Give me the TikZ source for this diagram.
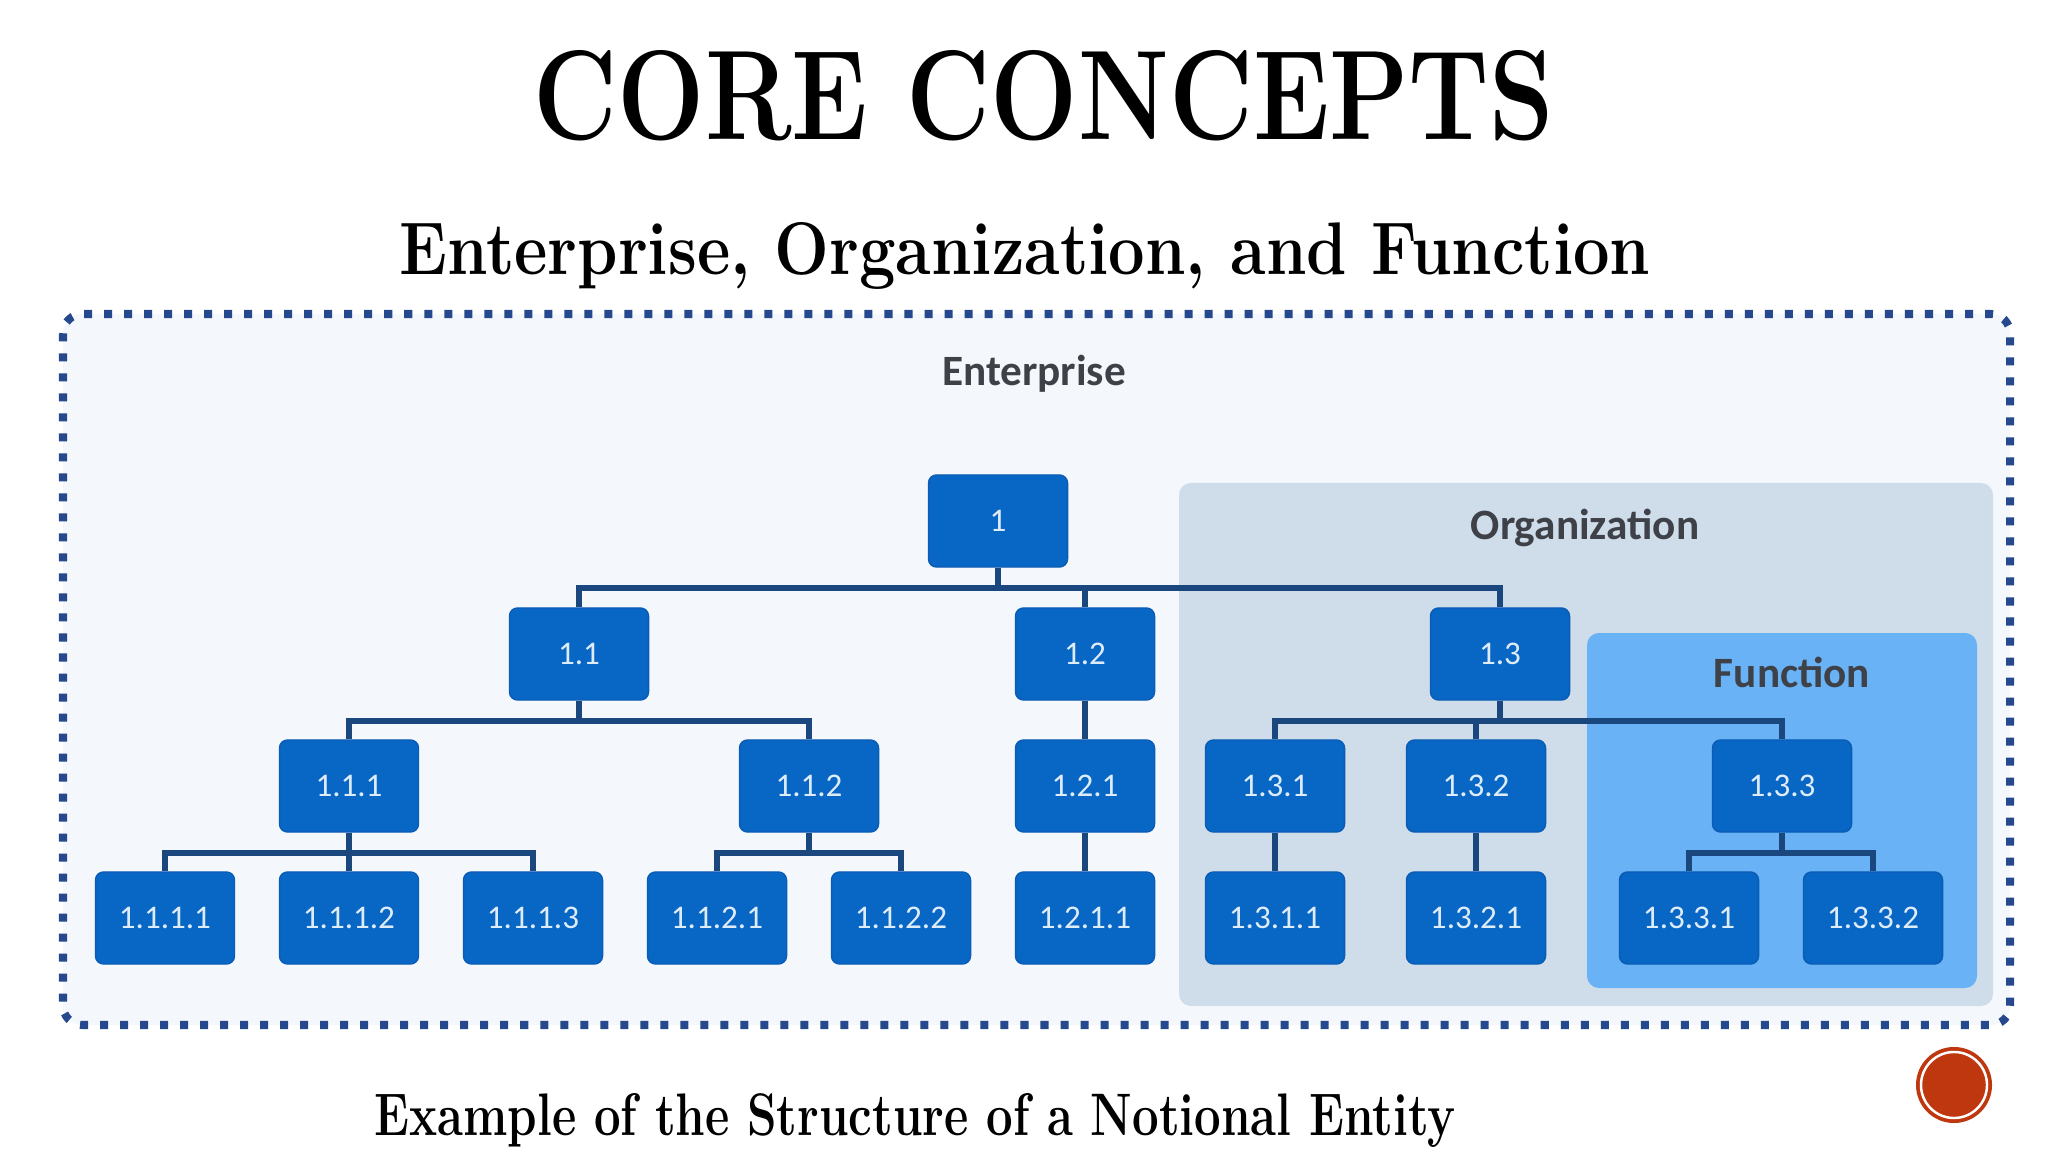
\documentclass[tikz,border=0pt]{standalone}
\usepackage{fontspec}
\usepackage{graphicx}
\newfontfamily\carlito{Carlito}
\definecolor{nodeblue}{RGB}{8,102,196}
\definecolor{nodeedge}{RGB}{10,92,180}
\definecolor{conncol}{RGB}{26,72,126}
\definecolor{dotcol}{RGB}{38,72,140}
\definecolor{entbg}{RGB}{244,248,252}
\definecolor{orgbg}{RGB}{207,221,235}
\definecolor{funbg}{RGB}{104,178,245}
\definecolor{labelgray}{RGB}{62,66,72}
\definecolor{nodetext}{RGB}{222,236,250}
\definecolor{redball}{RGB}{190,55,15}
\tikzset{
  unit/.style={draw=nodeedge, fill=nodeblue, rounded corners=2.3pt, minimum width=1.39cm,
    minimum height=0.92cm, inner sep=0pt, text=nodetext, font=\carlito\fontsize{9.4}{11}\selectfont},
  conn/.style={draw=conncol, line width=1.7pt, line join=miter},
  grouplabel/.style={text=labelgray, font=\carlito\bfseries\fontsize{12.3}{14}\selectfont, inner sep=0pt},
  heading/.style={inner sep=0pt, anchor=base, text=black}
}
\begin{document}
\begin{tikzpicture}[x=0.01cm, y=-0.01cm]
\useasboundingbox[fill=white] (0,0) rectangle (2048,1152);

% titles
\node[heading] (title) at (1044,140) {\resizebox{10.20cm}{0.89cm}{\fontsize{36}{40}\selectfont\bfseries CORE CONCEPTS}};
\node[heading] (subtitle) at (1025,275) {\resizebox{12.50cm}{0.52cm}{\fontsize{22}{26}\selectfont\bfseries Enterprise, Organization, and Function}};
\node[heading] (caption) at (915,1135) {\resizebox{10.80cm}{0.42cm}{\fontsize{18}{22}\selectfont\bfseries Example of the Structure of a Notional Entity}};

% enterprise frame
\draw[draw=dotcol, fill=entbg, line width=2.28pt, dash pattern=on 2.28pt off 3.41pt, rounded corners=5.5pt]
  (63,314) rectangle (2010,1025);
\node[grouplabel] (ent) at (1034,374) {Enterprise};

% organization & function
\fill[orgbg, rounded corners=3.4pt] (1179,483) rectangle (1993,1006);
\node[grouplabel] (org) at (1585,528) {Organization};
\fill[funbg, rounded corners=3.4pt] (1587,633) rectangle (1977,988);
\node[grouplabel] (fun) at (1792,672) {Function};

% nodes
\node[unit] (n1) at (998,521) {1};
\node[unit] (n11) at (579,654) {1.1};
\node[unit] (n12) at (1085,654) {1.2};
\node[unit] (n13) at (1500,654) {1.3};
\node[unit] (n111) at (349,786) {1.1.1};
\node[unit] (n112) at (809,786) {1.1.2};
\node[unit] (n121) at (1085,786) {1.2.1};
\node[unit] (n131) at (1275,786) {1.3.1};
\node[unit] (n132) at (1476,786) {1.3.2};
\node[unit] (n133) at (1782,786) {1.3.3};
\node[unit] (n1111) at (165,918) {1.1.1.1};
\node[unit] (n1112) at (349,918) {1.1.1.2};
\node[unit] (n1113) at (533,918) {1.1.1.3};
\node[unit] (n1121) at (717,918) {1.1.2.1};
\node[unit] (n1122) at (901,918) {1.1.2.2};
\node[unit] (n1211) at (1085,918) {1.2.1.1};
\node[unit] (n1311) at (1275,918) {1.3.1.1};
\node[unit] (n1321) at (1476,918) {1.3.2.1};
\node[unit] (n1331) at (1689,918) {1.3.3.1};
\node[unit] (n1332) at (1873,918) {1.3.3.2};

% connectors
\foreach \p/\c in {n1/n11,n1/n12,n1/n13,
                   n11/n111,n11/n112,n12/n121,n13/n131,n13/n132,n13/n133,
                   n111/n1111,n111/n1112,n111/n1113,n112/n1121,n112/n1122,
                   n121/n1211,n131/n1311,n132/n1321,n133/n1331,n133/n1332}
  \draw[conn] (\p.south) -- ++(0,20) -| (\c.north);

% red ball
\node[circle, fill=redball, minimum size=0.76cm, inner sep=0pt] (ball) at (1954,1085) {};
\draw[white, line width=0.7pt] (ball.center) circle[radius=0.33cm];
\end{tikzpicture}
\end{document}
